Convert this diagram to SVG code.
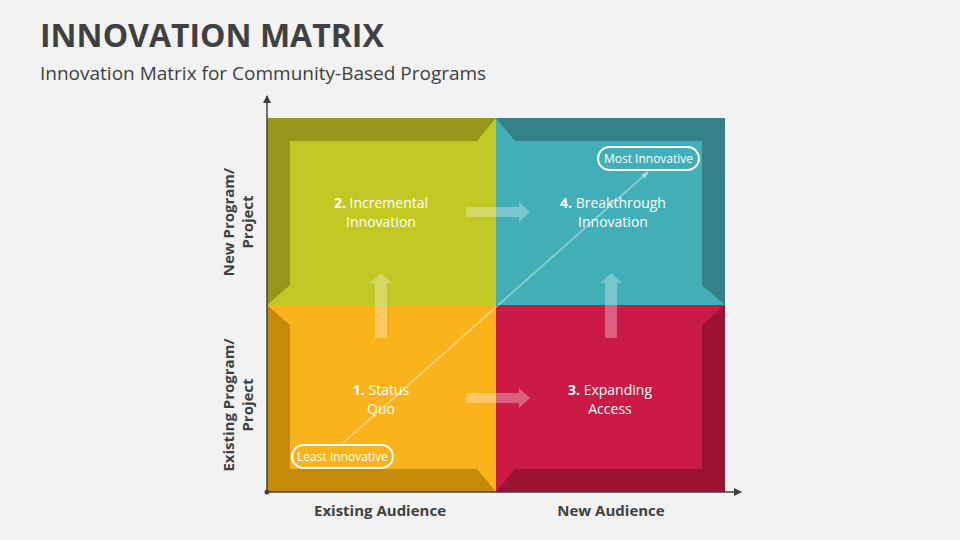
<svg xmlns="http://www.w3.org/2000/svg" width="960" height="540" viewBox="0 0 960 540">
<defs>
<style>
text{font-family:"Open Sans","Liberation Sans",sans-serif}
.q{fill:#fff;font-size:14px;text-anchor:middle}
.ax{fill:#404040;font-size:15px;font-weight:bold;text-anchor:middle}
.ar{fill:#fff;opacity:.3}
.pill{fill:none;stroke:#fff;stroke-width:2}
.pt{fill:#fff;font-size:12px;text-anchor:middle}
</style>
<marker id="ah" markerWidth="8" markerHeight="8" refX="7" refY="4" orient="auto" markerUnits="userSpaceOnUse"><path d="M0,0L8,4L0,8z" fill="#404040"/></marker>
<marker id="wh" markerWidth="8" markerHeight="8" refX="7" refY="4" orient="auto" markerUnits="userSpaceOnUse"><path d="M0,1L8,4L0,7z" fill="#fff" opacity=".4"/></marker>
</defs>
<rect width="960" height="540" fill="#f2f2f2"/>
<text x="40" y="47" font-size="32" font-weight="bold" fill="#404040">INNOVATION MATRIX</text>
<text x="40" y="80" font-size="19" fill="#404040">Innovation Matrix for Community-Based Programs</text>
<g id="q2"><rect x="267" y="118" width="229" height="187" fill="#94971A"/><polygon points="290,141 477,141 496,118 496,305 267,305 290,285" fill="#C2C823"/>
<text class="q" x="381" y="208"><tspan font-weight="bold">2.</tspan> Incremental</text><text class="q" x="381" y="227">Innovation</text></g>
<g id="q4"><rect x="496" y="118" width="229" height="187" fill="#348187"/><polygon points="496,118 515,141 702,141 702,285 725,305 496,305" fill="#41AEB8"/>
<text class="q" x="613" y="208"><tspan font-weight="bold">4.</tspan> Breakthrough</text><text class="q" x="613" y="227">Innovation</text></g>
<g id="q1"><rect x="267" y="305" width="229" height="187" fill="#C58A08"/><polygon points="267,305 290,325 290,469 477,469 496,492 496,305" fill="#F8B21A"/>
<text class="q" x="381" y="395"><tspan font-weight="bold">1.</tspan> Status</text><text class="q" x="381" y="414">Quo</text></g>
<g id="q3"><rect x="496" y="305" width="229" height="187" fill="#9B1235"/><polygon points="496,305 725,305 702,325 702,469 515,469 496,492" fill="#CC1A47"/>
<text class="q" x="610" y="395"><tspan font-weight="bold">3.</tspan> Expanding</text><text class="q" x="610" y="414">Access</text></g>
<g id="connectors">
<polygon class="ar" points="466,207 519,207 519,202 530,212 519,222 519,217 466,217"/>
<polygon class="ar" points="466,393 519,393 519,388 530,398 519,408 519,403 466,403"/>
<polygon class="ar" points="375,338 375,283 370,283 381,273 392,283 387,283 387,338"/>
<polygon class="ar" points="605,338 605,283 600,283 611,273 622,283 617,283 617,338"/>
<line x1="343" y1="443" x2="648" y2="172" stroke="#fff" stroke-opacity=".35" stroke-width="2" marker-end="url(#wh)"/>
<line x1="267" y1="492" x2="267" y2="96" stroke="#404040" stroke-width="1.5" marker-end="url(#ah)"/>
<line x1="267" y1="492" x2="741" y2="492" stroke="#404040" stroke-width="1.5" marker-end="url(#ah)"/>
<circle cx="267" cy="492" r="2.5" fill="#404040"/>
</g>
<g id="most"><rect class="pill" x="598" y="147" width="101" height="23" rx="11.5"/><text class="pt" x="648.5" y="163">Most Innovative</text></g>
<g id="least"><rect class="pill" x="292" y="445" width="101" height="23" rx="11.5"/><text class="pt" x="342.5" y="461">Least Innovative</text></g>
<text class="ax" x="380" y="516">Existing Audience</text>
<text class="ax" x="611" y="516">New Audience</text>
<text class="ax" transform="translate(234,222) rotate(-90)">New Program/</text>
<text class="ax" transform="translate(253,222) rotate(-90)">Project</text>
<text class="ax" transform="translate(234,405) rotate(-90)">Existing Program/</text>
<text class="ax" transform="translate(253,405) rotate(-90)">Project</text>
</svg>
